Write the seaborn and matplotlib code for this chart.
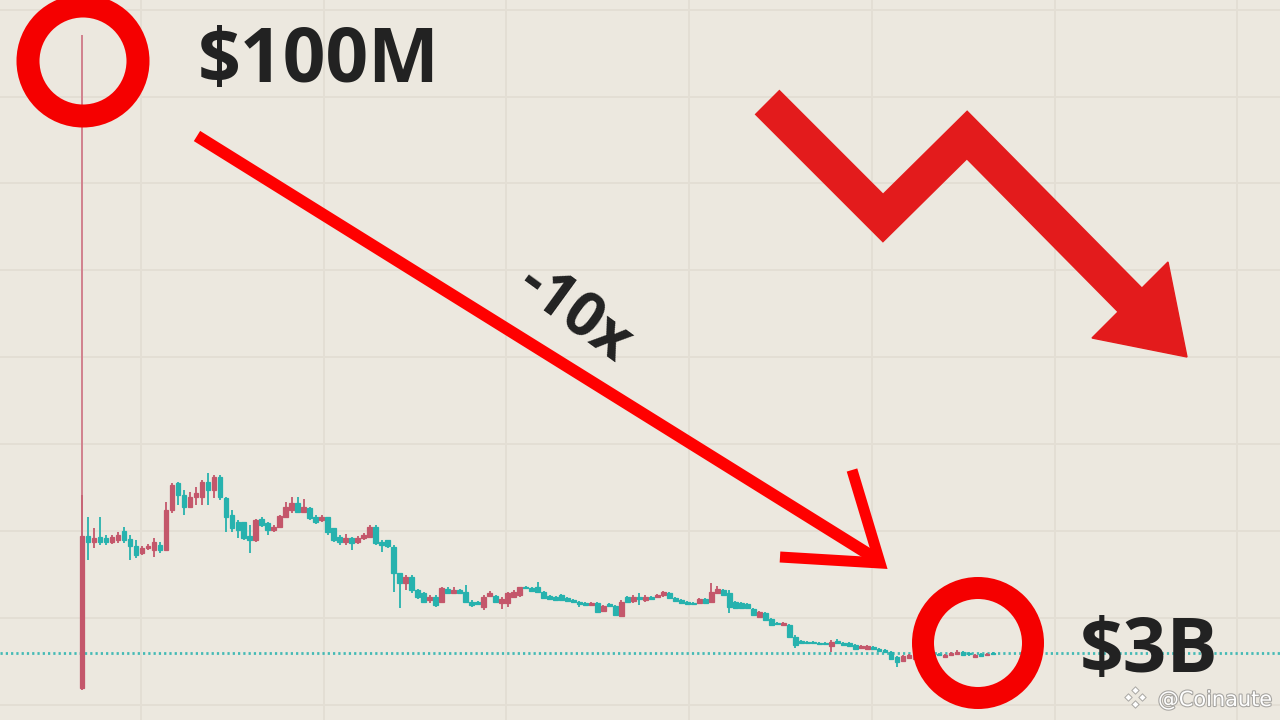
import numpy as np
import matplotlib
matplotlib.use("Agg")
import matplotlib.pyplot as plt
import matplotlib.patches as mpatches
import matplotlib.patheffects as pe
import seaborn as sns

# candle data (price units)
opens = [32,184,178,183,182,178,180,189,181,174, 167,172,170,175,170,210,237,225,213,223,
         223,238,230,243,222,205,198,198,184,180, 201,197,190,193,203,210,217,208,212,203,
         200,203,192,183,178,182,178,182,183,193, 178,180,
         173,147,137,143,130,127,120,123,118,131, 127,130,128,118,118,113,124,124,117,117,
         123,125,133,132,133,128,124,123,125,122, 120,118,117,115,117,109,116,114,104,123,
         119,123,120,123,123,125,127,122,120,118, 117,117,121,118,127,130,
         127,118,117,116,111,103,107,101,97,95, 95,83,79,78,78,77,77,74,79,77,
         77,75,72,71,73,71,70,68,63,59, 62,61,64,66,65, 66,63,65,66,68,67,63,66,65,67]
closes = [184,178,182,178,178,183,185,180,174,165, 172,174,178,170,210,235,225,213,223,227,
          238,230,243,223,203,192,190,182,180,200, 195,190,193,204,213,217,208,213,202,198,
          203,188,180,178,182,177,182,185,193,177, 175,174,
          147,137,143,130,123,118,123,115,132,127, 130,127,118,115,116,123,127,118,121,127,
          128,133,132,129,128,122,121,120,120,119, 118,116,115,117,108,114,114,105,118,118,
          123,121,123,121,125,128,122,119,117,116, 116,121,117,128,131,125,
          113,112,112,112,105,108,100,95,96,97, 83,75,77,77,77,76,76,78,77,75,
          74,71,74,74,71,69,68,61,58,64, 65,67,66,64,64, 65,65,67,68,65,66,65,64,66,66]
highs = [685,203,192,203,185,185,188,193,185,180, 174,176,182,178,218,237,238,230,228,233,
         240,247,245,245,223,210,200,198,195,201, 203,198,195,205,218,223,223,221,213,205,
         205,203,192,185,186,183,184,187,195,195, 180,180,
         175,147,145,145,131,128,125,125,133,133, 133,131,135,120,119,125,129,125,123,128,
         130,133,134,133,138,129,125,124,126,123, 121,119,118,118,118,115,117,115,120,124,
         125,127,125,124,126,129,128,123,121,119, 118,122,122,137,134,131,
         130,119,118,117,112,109,108,102,98,98, 96,85,80,79,79,78,78,80,81,78,
         78,76,75,75,74,72,71,69,64,65, 66,68,67,67,66, 67,66,68,70,69,68,66,67,67,68]
lows = [30,160,172,175,175,176,177,177,160,162, 165,170,163,167,170,207,215,205,212,215,
        215,215,222,220,188,188,182,180,167,178, 193,185,188,192,202,207,207,207,200,196,
        198,185,178,175,175,170,176,180,182,175, 168,172,
        128,112,130,127,121,117,117,113,117,127, 127,126,117,113,115,110,123,117,111,113,
        122,123,131,128,127,121,120,119,119,118, 117,113,114,114,107,108,113,105,103,117,
        117,115,118,120,122,123,121,118,116,115, 115,116,116,117,126,124,
        107,111,111,111,104,102,99,94,95,94, 82,72,76,76,76,75,75,68,76,74,
        73,70,71,70,70,68,67,60,53,58, 61,60,63,63,63, 64,62,64,65,64,64,62,63,64,65]
ref_level = 67
grid_x = [9.8, 40.3, 70.8, 101.3, 131.8, 162.3, 192.8]
grid_y = [15, 102, 189, 276, 363, 450, 537, 623, 710]

start_label = "$100M"
end_label = "$3B"
drop_label = "-10x"
watermark = "@Coinaute"

bg = "#ECE8DF"
grid_c = "#E3DED4"
up_c = "#C4576B"
down_c = "#27B2AE"
ring_c = "#F50000"
arrow_c = "#E31B1C"

sns.set_theme(style="whitegrid", rc={"axes.facecolor": bg, "figure.facecolor": bg,
                                     "grid.color": grid_c})
plt.rcParams["font.family"] = ["Open Sans", "DejaVu Sans"]

fig = plt.figure(figsize=(12.8, 7.2), dpi=100)
ax = fig.add_axes([0, 0, 1, 1])

df_o = np.array(opens, float)
df_c = np.array(closes, float)
xs = np.arange(len(df_o))
up = df_c >= df_o
cols = np.where(up, up_c, down_c)

ax.axhline(ref_level, color=down_c, ls=(0, (0.8, 1.1)), lw=2.0, alpha=0.85, zorder=1)
ax.vlines(xs, lows, highs, colors=cols, lw=1.3, zorder=2)
ax.vlines(xs[:1], np.array(highs[:1]) - 460, highs[:1], colors="#D48A95", lw=1.2, zorder=2)
ax.bar(xs, np.abs(df_c - df_o), bottom=np.minimum(df_o, df_c), width=0.8,
       color=cols, edgecolor=cols, linewidth=0.9, zorder=3)

ax.set_xlim(-13.7, 199.9)
ax.set_ylim(0, 720)
ax.set_xticks(grid_x)
ax.set_yticks(grid_y)
ax.tick_params(labelbottom=False, labelleft=False, length=0)
ax.grid(True, color=grid_c, lw=1.4)
for s in ax.spines.values():
    s.set_visible(False)

# overlay in pixel space for the illustration layer
ov = fig.add_axes([0, 0, 1, 1])
ov.set_xlim(0, 1280)
ov.set_ylim(720, 0)
ov.axis("off")
ov.patch.set_alpha(0)

px = 0.72  # points per pixel
ov.add_patch(mpatches.Circle((83, 61), 55, fill=False, ec=ring_c, lw=23 * px, zorder=5))
ov.add_patch(mpatches.Circle((978, 643), 55, fill=False, ec=ring_c, lw=22 * px, zorder=5))

ov.text(198, 82, start_label, fontsize=54, fontweight="bold", color="#222222",
        ha="left", va="baseline")
ov.text(1080, 672, end_label, fontsize=55, fontweight="bold", color="#222222",
        ha="left", va="baseline")

# thin diagonal arrow
ov.plot([197, 878], [136, 560], color="#FF0000", lw=12 * px, solid_capstyle="butt", zorder=4)
ov.plot([852, 880, 780], [470, 563, 557], color="#FF0000", lw=11 * px,
        solid_joinstyle="miter", solid_capstyle="butt", zorder=4)
ov.text(573, 315, drop_label, fontsize=44, fontweight="bold", color="#222222",
        rotation=-36, rotation_mode="anchor", ha="center", va="center")

# big zigzag arrow
ov.plot([767, 883, 967, 1135], [102, 218, 135, 305], color=arrow_c, lw=35 * px,
        solid_joinstyle="miter", solid_capstyle="butt", zorder=4)
ov.add_patch(mpatches.Polygon([(1168, 262), (1092, 338), (1187, 357)], closed=True,
                              color=arrow_c, zorder=4))

# watermark
ov.text(1272, 706, watermark, fontsize=15, color="white", ha="right", va="baseline",
        family=["DejaVu Sans"],
        path_effects=[pe.withStroke(linewidth=1.6, foreground="#A8A6A2")])
ov.scatter([1135, 1128, 1142, 1135], [690, 697, 697, 704], marker="D", s=14,
           facecolor="white", edgecolor="#A8A6A2", linewidth=0.7, zorder=6)

fig.savefig("out.png", dpi=100, facecolor=bg)
